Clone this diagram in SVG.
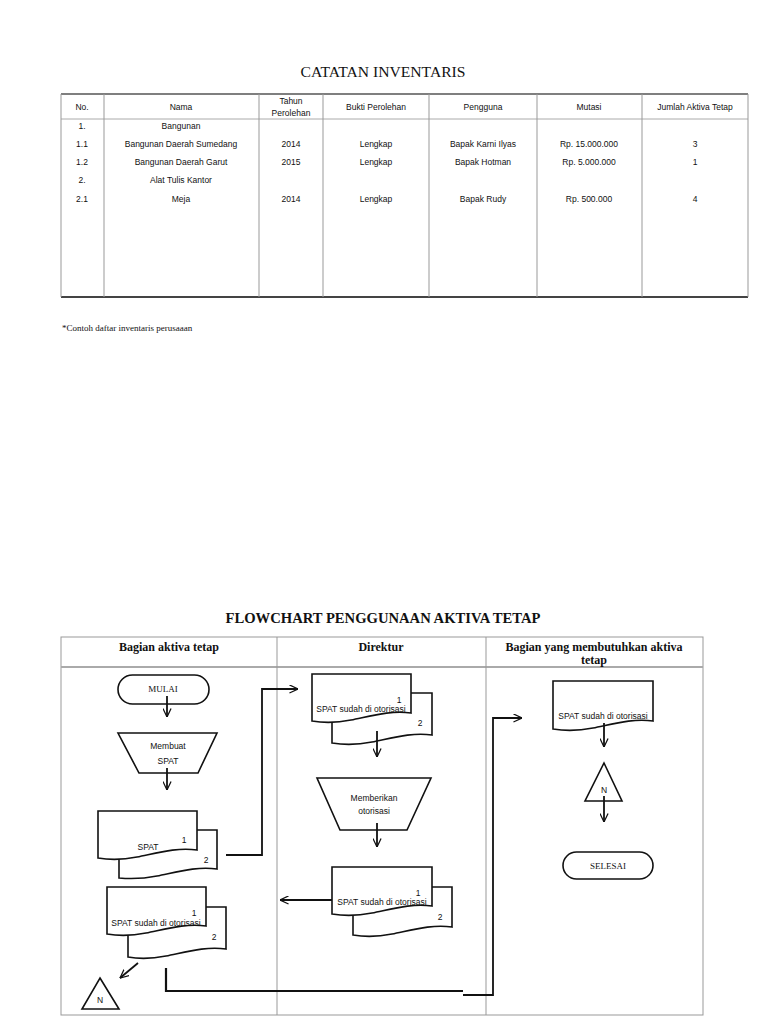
<svg xmlns="http://www.w3.org/2000/svg" width="768" height="1024" viewBox="0 0 768 1024">
<style>
.ttl{font-family:"Liberation Serif","Times New Roman",serif;fill:#111;}
.tb{font-family:"Liberation Sans",Arial,sans-serif;font-size:8.5px;fill:#111;text-anchor:middle;}
.grid{stroke:#999;stroke-width:1;fill:none;}
.hd{font-family:"Liberation Serif","Times New Roman",serif;font-size:12px;font-weight:bold;fill:#111;text-anchor:middle;}
.shape{fill:#fff;stroke:#111;stroke-width:1.6;}
.st{font-family:"Liberation Sans",Arial,sans-serif;font-size:8.5px;fill:#111;text-anchor:middle;}
.sf{font-family:"Liberation Serif","Times New Roman",serif;font-size:9px;fill:#111;text-anchor:middle;}
.con{fill:none;stroke:#111;stroke-width:1.8;marker-end:url(#arr);}
.conp{fill:none;stroke:#111;stroke-width:2.2;}
</style>
<defs>
<marker id="arr" viewBox="0 0 10 10" refX="9.5" refY="5" markerUnits="userSpaceOnUse" markerWidth="9" markerHeight="9" orient="auto">
<path d="M0,0.5 L9.5,5 L0,9.5" fill="none" stroke="#111" stroke-width="1.4"/>
</marker>
</defs>
<rect width="768" height="1024" fill="#fff"/>

<g id="inventaris">
<text class="ttl" x="383" y="77" font-size="15" text-anchor="middle" textLength="165" lengthAdjust="spacingAndGlyphs">CATATAN INVENTARIS</text>
<line x1="61" y1="94" x2="748" y2="94" stroke="#555" stroke-width="1.5"/>
<line x1="61" y1="119" x2="748" y2="119" stroke="#aaa" stroke-width="1"/>
<line x1="61" y1="297" x2="748" y2="297" stroke="#444" stroke-width="2"/>
<g class="grid">
<line x1="61" y1="94" x2="61" y2="297"/>
<line x1="104" y1="94" x2="104" y2="297"/>
<line x1="259" y1="94" x2="259" y2="297"/>
<line x1="323" y1="94" x2="323" y2="297"/>
<line x1="429" y1="94" x2="429" y2="297"/>
<line x1="537" y1="94" x2="537" y2="297"/>
<line x1="642" y1="94" x2="642" y2="297"/>
<line x1="748" y1="94" x2="748" y2="297"/>
</g>
<text class="tb" x="82" y="110">No.</text>
<text class="tb" x="181" y="110">Nama</text>
<text class="tb" x="291" y="104">Tahun</text>
<text class="tb" x="291" y="116">Perolehan</text>
<text class="tb" x="376" y="110">Bukti Perolehan</text>
<text class="tb" x="483" y="110">Pengguna</text>
<text class="tb" x="589" y="110">Mutasi</text>
<text class="tb" x="695" y="110">Jumlah Aktiva Tetap</text>

<text class="tb" x="82" y="129">1.</text>
<text class="tb" x="181" y="129">Bangunan</text>

<text class="tb" x="82" y="147">1.1</text>
<text class="tb" x="181" y="147">Bangunan Daerah Sumedang</text>
<text class="tb" x="291" y="147">2014</text>
<text class="tb" x="376" y="147">Lengkap</text>
<text class="tb" x="483" y="147">Bapak Karni Ilyas</text>
<text class="tb" x="589" y="147">Rp. 15.000.000</text>
<text class="tb" x="695" y="147">3</text>

<text class="tb" x="82" y="165">1.2</text>
<text class="tb" x="181" y="165">Bangunan Daerah Garut</text>
<text class="tb" x="291" y="165">2015</text>
<text class="tb" x="376" y="165">Lengkap</text>
<text class="tb" x="483" y="165">Bapak Hotman</text>
<text class="tb" x="589" y="165">Rp. 5.000.000</text>
<text class="tb" x="695" y="165">1</text>

<text class="tb" x="82" y="183">2.</text>
<text class="tb" x="181" y="183">Alat Tulis Kantor</text>

<text class="tb" x="82" y="202">2.1</text>
<text class="tb" x="181" y="202">Meja</text>
<text class="tb" x="291" y="202">2014</text>
<text class="tb" x="376" y="202">Lengkap</text>
<text class="tb" x="483" y="202">Bapak Rudy</text>
<text class="tb" x="589" y="202">Rp. 500.000</text>
<text class="tb" x="695" y="202">4</text>

<text class="ttl" x="62" y="331" font-size="9">*Contoh daftar inventaris perusaaan</text>
</g>

<g id="flowchart-frame">
<text class="ttl" x="383" y="623" font-size="15" font-weight="bold" text-anchor="middle" textLength="315" lengthAdjust="spacingAndGlyphs">FLOWCHART PENGGUNAAN AKTIVA TETAP</text>
<rect x="61" y="637" width="642" height="378" fill="none" stroke="#999" stroke-width="1"/>
<line x1="61" y1="667" x2="703" y2="667" stroke="#aaa" stroke-width="2"/>
<line x1="277" y1="637" x2="277" y2="1015" stroke="#999" stroke-width="1"/>
<line x1="486" y1="637" x2="486" y2="1015" stroke="#999" stroke-width="1"/>
<text class="hd" x="169" y="651">Bagian aktiva tetap</text>
<text class="hd" x="381" y="651">Direktur</text>
<text class="hd" x="594" y="651">Bagian yang membutuhkan aktiva</text>
<text class="hd" x="594" y="664">tetap</text>
</g>

<g id="mulai">
<rect class="shape" x="118" y="675" width="91" height="29" rx="14.5"/>
<text class="sf" x="163" y="692">MULAI</text>
</g>

<g id="membuat-spat">
<polygon class="shape" points="118,733 217,733 198,773 139,773"/>
<text class="st" x="168" y="749">Membuat</text>
<text class="st" x="168" y="764">SPAT</text>
</g>

<g id="spat">
<path class="shape" d="M119,849 V830 H217 V869 C197,866 177,872 157,876 C142,879 130,879 119,878 Z"/>
<path class="shape" d="M98,811 H197 V850 C177,847 157,853 137,857 C122,860 110,860 98,858 Z"/>
<text class="st" x="184" y="843">1</text>
<text class="st" x="148" y="850">SPAT</text>
<text class="st" x="206" y="863">2</text>
</g>

<g id="spat-otorisasi-1">
<path class="shape" d="M332,712 V693 H432 V735 C412,732 392,738 372,742 C357,745 344,745 332,743 Z"/>
<path class="shape" d="M312,674 H411 V713 C391,710 371,716 351,720 C336,723 324,723 312,721 Z"/>
<text class="st" x="399" y="703">1</text>
<text class="st" x="361" y="712">SPAT sudah di otorisasi</text>
<text class="st" x="420" y="726">2</text>
</g>

<g id="memberikan-otorisasi">
<polygon class="shape" points="317,778 431,778 407,830 340,830"/>
<text class="st" x="374" y="801">Memberikan</text>
<text class="st" x="374" y="814">otorisasi</text>
</g>

<g id="spat-otorisasi-2">
<path class="shape" d="M353,906 V887 H452 V927 C432,924 412,930 392,934 C377,937 365,937 353,935 Z"/>
<path class="shape" d="M332,867 H432 V906 C412,903 392,909 372,913 C357,916 344,916 332,914 Z"/>
<text class="st" x="418" y="896">1</text>
<text class="st" x="382" y="905">SPAT sudah di otorisasi</text>
<text class="st" x="440" y="920">2</text>
</g>

<g id="spat-otorisasi-3">
<path class="shape" d="M128,926 V907 H226 V949 C206,946 186,952 166,956 C151,959 139,959 128,957 Z"/>
<path class="shape" d="M107,887 H206 V926 C186,923 166,929 146,933 C131,936 119,936 107,934 Z"/>
<text class="st" x="194" y="916">1</text>
<text class="st" x="156" y="926">SPAT sudah di otorisasi</text>
<text class="st" x="214" y="940">2</text>
</g>

<g id="n-kiri">
<polygon class="shape" points="100,978 119,1009 82,1009"/>
<text class="st" x="100" y="1003" font-size="7">N</text>
</g>

<g id="spat-otorisasi-4">
<path class="shape" d="M553,681 H653 V721 C633,718 613,724 593,728 C578,731 565,731 553,729 Z"/>
<text class="st" x="603" y="719">SPAT sudah di otorisasi</text>
</g>

<g id="n-kanan">
<polygon class="shape" points="604,763 622,801 585,801"/>
<text class="st" x="604" y="793" font-size="7">N</text>
</g>

<g id="selesai">
<rect class="shape" x="563" y="852" width="90" height="27" rx="13.5"/>
<text class="sf" x="608" y="869">SELESAI</text>
</g>

<g id="connectors">
<line class="con" x1="167" y1="696" x2="167" y2="717"/>
<line class="con" x1="167" y1="768" x2="167" y2="790"/>
<polyline class="con" points="226,855 262,855 262,689 298,689"/>
<line class="con" x1="377" y1="731" x2="377" y2="757"/>
<line class="con" x1="377" y1="823" x2="377" y2="847"/>
<line class="con" x1="332" y1="900" x2="280" y2="900"/>
<line class="con" x1="138" y1="963" x2="120" y2="978"/>
<polyline class="conp" points="166,968 166,991 463,991"/>
<polyline class="con" stroke-width="2.2" points="463,995 493,995 493,718 522,718"/>
<line class="con" x1="604" y1="723" x2="604" y2="747"/>
<line class="con" x1="604" y1="796" x2="604" y2="822"/>
</g>
</svg>
